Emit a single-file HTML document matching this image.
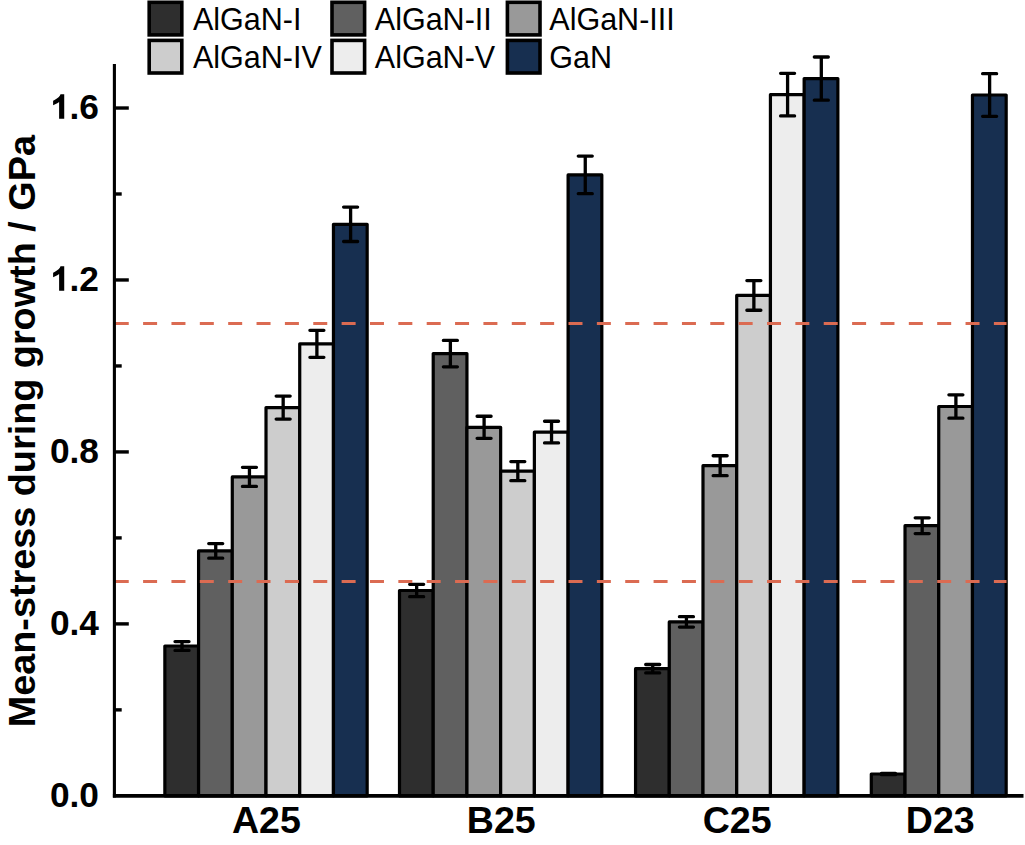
<!DOCTYPE html>
<html><head><meta charset="utf-8"><style>
html,body{margin:0;padding:0;background:#fff;}
svg{display:block;}
text{font-family:"Liberation Sans",sans-serif;fill:#000;}
.b{font-weight:bold;}
.r{font-weight:normal;}
</style></head><body>
<svg width="1025" height="845" viewBox="0 0 1025 845">
<rect x="0" y="0" width="1025" height="845" fill="#ffffff"/>
<rect x="164.85" y="646.00" width="33.72" height="149.85" fill="#2e2e2e" stroke="#000" stroke-width="3.2" stroke-linejoin="round"/>
<rect x="198.57" y="550.90" width="33.72" height="244.95" fill="#606060" stroke="#000" stroke-width="3.2" stroke-linejoin="round"/>
<rect x="232.29" y="476.90" width="33.72" height="318.95" fill="#999999" stroke="#000" stroke-width="3.2" stroke-linejoin="round"/>
<rect x="266.01" y="407.60" width="33.72" height="388.25" fill="#cdcdcd" stroke="#000" stroke-width="3.2" stroke-linejoin="round"/>
<rect x="299.73" y="343.80" width="33.72" height="452.05" fill="#ededed" stroke="#000" stroke-width="3.2" stroke-linejoin="round"/>
<rect x="333.45" y="224.30" width="33.72" height="571.55" fill="#172f50" stroke="#000" stroke-width="3.2" stroke-linejoin="round"/>
<rect x="399.50" y="590.50" width="33.72" height="205.35" fill="#2e2e2e" stroke="#000" stroke-width="3.2" stroke-linejoin="round"/>
<rect x="433.22" y="353.60" width="33.72" height="442.25" fill="#606060" stroke="#000" stroke-width="3.2" stroke-linejoin="round"/>
<rect x="466.94" y="427.30" width="33.72" height="368.55" fill="#999999" stroke="#000" stroke-width="3.2" stroke-linejoin="round"/>
<rect x="500.66" y="471.10" width="33.72" height="324.75" fill="#cdcdcd" stroke="#000" stroke-width="3.2" stroke-linejoin="round"/>
<rect x="534.38" y="432.10" width="33.72" height="363.75" fill="#ededed" stroke="#000" stroke-width="3.2" stroke-linejoin="round"/>
<rect x="568.10" y="174.90" width="33.72" height="620.95" fill="#172f50" stroke="#000" stroke-width="3.2" stroke-linejoin="round"/>
<rect x="635.55" y="668.70" width="33.72" height="127.15" fill="#2e2e2e" stroke="#000" stroke-width="3.2" stroke-linejoin="round"/>
<rect x="669.27" y="621.90" width="33.72" height="173.95" fill="#606060" stroke="#000" stroke-width="3.2" stroke-linejoin="round"/>
<rect x="702.99" y="465.70" width="33.72" height="330.15" fill="#999999" stroke="#000" stroke-width="3.2" stroke-linejoin="round"/>
<rect x="736.71" y="295.40" width="33.72" height="500.45" fill="#cdcdcd" stroke="#000" stroke-width="3.2" stroke-linejoin="round"/>
<rect x="770.43" y="94.60" width="33.72" height="701.25" fill="#ededed" stroke="#000" stroke-width="3.2" stroke-linejoin="round"/>
<rect x="804.15" y="78.60" width="33.72" height="717.25" fill="#172f50" stroke="#000" stroke-width="3.2" stroke-linejoin="round"/>
<rect x="871.30" y="774.00" width="33.72" height="21.85" fill="#2e2e2e" stroke="#000" stroke-width="3.2" stroke-linejoin="round"/>
<rect x="905.02" y="525.70" width="33.72" height="270.15" fill="#606060" stroke="#000" stroke-width="3.2" stroke-linejoin="round"/>
<rect x="938.74" y="406.50" width="33.72" height="389.35" fill="#999999" stroke="#000" stroke-width="3.2" stroke-linejoin="round"/>
<rect x="972.46" y="95.00" width="33.72" height="700.85" fill="#172f50" stroke="#000" stroke-width="3.2" stroke-linejoin="round"/>
<path d="M182.01 641.60V650.40M175.01 641.60h14.0M175.01 650.40h14.0" stroke="#000" stroke-width="3.3" stroke-linecap="round" fill="none"/>
<path d="M215.73 543.60V558.20M208.73 543.60h14.0M208.73 558.20h14.0" stroke="#000" stroke-width="3.3" stroke-linecap="round" fill="none"/>
<path d="M249.45 467.35V486.45M242.45 467.35h14.0M242.45 486.45h14.0" stroke="#000" stroke-width="3.3" stroke-linecap="round" fill="none"/>
<path d="M283.17 396.10V419.10M276.17 396.10h14.0M276.17 419.10h14.0" stroke="#000" stroke-width="3.3" stroke-linecap="round" fill="none"/>
<path d="M316.89 330.30V357.30M309.89 330.30h14.0M309.89 357.30h14.0" stroke="#000" stroke-width="3.3" stroke-linecap="round" fill="none"/>
<path d="M350.61 207.10V241.50M343.61 207.10h14.0M343.61 241.50h14.0" stroke="#000" stroke-width="3.3" stroke-linecap="round" fill="none"/>
<path d="M416.66 584.35V596.65M409.66 584.35h14.0M409.66 596.65h14.0" stroke="#000" stroke-width="3.3" stroke-linecap="round" fill="none"/>
<path d="M450.38 340.40V366.80M443.38 340.40h14.0M443.38 366.80h14.0" stroke="#000" stroke-width="3.3" stroke-linecap="round" fill="none"/>
<path d="M484.10 416.25V438.35M477.10 416.25h14.0M477.10 438.35h14.0" stroke="#000" stroke-width="3.3" stroke-linecap="round" fill="none"/>
<path d="M517.82 461.55V480.65M510.82 461.55h14.0M510.82 480.65h14.0" stroke="#000" stroke-width="3.3" stroke-linecap="round" fill="none"/>
<path d="M551.54 421.25V442.95M544.54 421.25h14.0M544.54 442.95h14.0" stroke="#000" stroke-width="3.3" stroke-linecap="round" fill="none"/>
<path d="M585.26 156.10V193.70M578.26 156.10h14.0M578.26 193.70h14.0" stroke="#000" stroke-width="3.3" stroke-linecap="round" fill="none"/>
<path d="M652.71 664.50V672.90M645.71 664.50h14.0M645.71 672.90h14.0" stroke="#000" stroke-width="3.3" stroke-linecap="round" fill="none"/>
<path d="M686.43 616.70V627.10M679.43 616.70h14.0M679.43 627.10h14.0" stroke="#000" stroke-width="3.3" stroke-linecap="round" fill="none"/>
<path d="M720.15 455.75V475.65M713.15 455.75h14.0M713.15 475.65h14.0" stroke="#000" stroke-width="3.3" stroke-linecap="round" fill="none"/>
<path d="M753.87 280.55V310.25M746.87 280.55h14.0M746.87 310.25h14.0" stroke="#000" stroke-width="3.3" stroke-linecap="round" fill="none"/>
<path d="M787.59 73.30V115.90M780.59 73.30h14.0M780.59 115.90h14.0" stroke="#000" stroke-width="3.3" stroke-linecap="round" fill="none"/>
<path d="M821.31 57.00V100.20M814.31 57.00h14.0M814.31 100.20h14.0" stroke="#000" stroke-width="3.3" stroke-linecap="round" fill="none"/>
<path d="M888.46 773.30V774.70M881.46 773.30h14.0M881.46 774.70h14.0" stroke="#000" stroke-width="3.3" stroke-linecap="round" fill="none"/>
<path d="M922.18 517.80V533.60M915.18 517.80h14.0M915.18 533.60h14.0" stroke="#000" stroke-width="3.3" stroke-linecap="round" fill="none"/>
<path d="M955.90 394.80V418.20M948.90 394.80h14.0M948.90 418.20h14.0" stroke="#000" stroke-width="3.3" stroke-linecap="round" fill="none"/>
<path d="M989.62 73.70V116.30M982.62 73.70h14.0M982.62 116.30h14.0" stroke="#000" stroke-width="3.3" stroke-linecap="round" fill="none"/>
<line x1="114.74" y1="581.55" x2="1006.5" y2="581.55" stroke="#db6b52" stroke-width="3.0" stroke-dasharray="14 14.36"/>
<line x1="114.74" y1="323.55" x2="1006.5" y2="323.55" stroke="#db6b52" stroke-width="3.0" stroke-dasharray="14 14.36"/>
<line x1="114.4" y1="63.9" x2="114.4" y2="797.6" stroke="#000" stroke-width="3.1"/>
<line x1="112.9" y1="795.85" x2="1023.5" y2="795.85" stroke="#000" stroke-width="3.6"/>
<line x1="114.4" y1="709.87" x2="121.70" y2="709.87" stroke="#000" stroke-width="3.4"/>
<line x1="114.4" y1="623.89" x2="128.80" y2="623.89" stroke="#000" stroke-width="3.4"/>
<line x1="114.4" y1="537.91" x2="121.70" y2="537.91" stroke="#000" stroke-width="3.4"/>
<line x1="114.4" y1="451.93" x2="128.80" y2="451.93" stroke="#000" stroke-width="3.4"/>
<line x1="114.4" y1="365.95" x2="121.70" y2="365.95" stroke="#000" stroke-width="3.4"/>
<line x1="114.4" y1="279.97" x2="128.80" y2="279.97" stroke="#000" stroke-width="3.4"/>
<line x1="114.4" y1="193.99" x2="121.70" y2="193.99" stroke="#000" stroke-width="3.4"/>
<line x1="114.4" y1="108.01" x2="128.80" y2="108.01" stroke="#000" stroke-width="3.4"/>
<text x="99" y="806.55" text-anchor="end" class="b" font-size="35.3">0.0</text>
<text x="99" y="634.59" text-anchor="end" class="b" font-size="35.3">0.4</text>
<text x="99" y="462.63" text-anchor="end" class="b" font-size="35.3">0.8</text>
<text x="99" y="290.67" text-anchor="end" class="b" font-size="35.3">.2</text>
<path d="M64.23 290.67L64.23 266.31L60.52 266.31C59.82 268.25 58.23 269.84 56.11 271.08C55.05 271.78 53.99 272.31 53.11 272.67L53.11 277.19C55.23 276.55 57.35 275.42 59.11 274.08L59.11 290.67Z" fill="#000"/>
<text x="99" y="118.71" text-anchor="end" class="b" font-size="35.3">.6</text>
<path d="M64.23 118.71L64.23 94.35L60.52 94.35C59.82 96.29 58.23 97.88 56.11 99.12C55.05 99.82 53.99 100.35 53.11 100.71L53.11 105.23C55.23 104.59 57.35 103.46 59.11 102.12L59.11 118.71Z" fill="#000"/>
<text x="266.35" y="833.4" text-anchor="middle" class="b" font-size="37.6">A25</text>
<text x="501.25" y="833.4" text-anchor="middle" class="b" font-size="37.6">B25</text>
<text x="737.1" y="833.4" text-anchor="middle" class="b" font-size="37.6">C25</text>
<text x="940.3" y="833.4" text-anchor="middle" class="b" font-size="37.6">D23</text>
<text transform="translate(35,431.2) rotate(-90)" text-anchor="middle" class="b" font-size="37.8">Mean-stress during growth / GPa</text>
<rect x="149.20" y="2.30" width="32.60" height="32.60" fill="#2e2e2e" stroke="#000" stroke-width="3.6"/>
<text x="193" y="29.50" class="r" font-size="30.5">AlGaN-I</text>
<rect x="332.00" y="2.30" width="32.60" height="32.60" fill="#606060" stroke="#000" stroke-width="3.6"/>
<text x="374.8" y="29.50" class="r" font-size="30.5">AlGaN-II</text>
<rect x="507.40" y="2.30" width="32.60" height="32.60" fill="#999999" stroke="#000" stroke-width="3.6"/>
<text x="549.3" y="29.50" class="r" font-size="30.5">AlGaN-III</text>
<rect x="149.20" y="40.40" width="32.60" height="32.60" fill="#cdcdcd" stroke="#000" stroke-width="3.6"/>
<text x="193" y="67.60" class="r" font-size="30.5">AlGaN-IV</text>
<rect x="332.00" y="40.40" width="32.60" height="32.60" fill="#ededed" stroke="#000" stroke-width="3.6"/>
<text x="374.8" y="67.60" class="r" font-size="30.5">AlGaN-V</text>
<rect x="507.40" y="40.40" width="32.60" height="32.60" fill="#172f50" stroke="#000" stroke-width="3.6"/>
<text x="549.3" y="67.60" class="r" font-size="30.5">GaN</text>
</svg>
</body></html>
